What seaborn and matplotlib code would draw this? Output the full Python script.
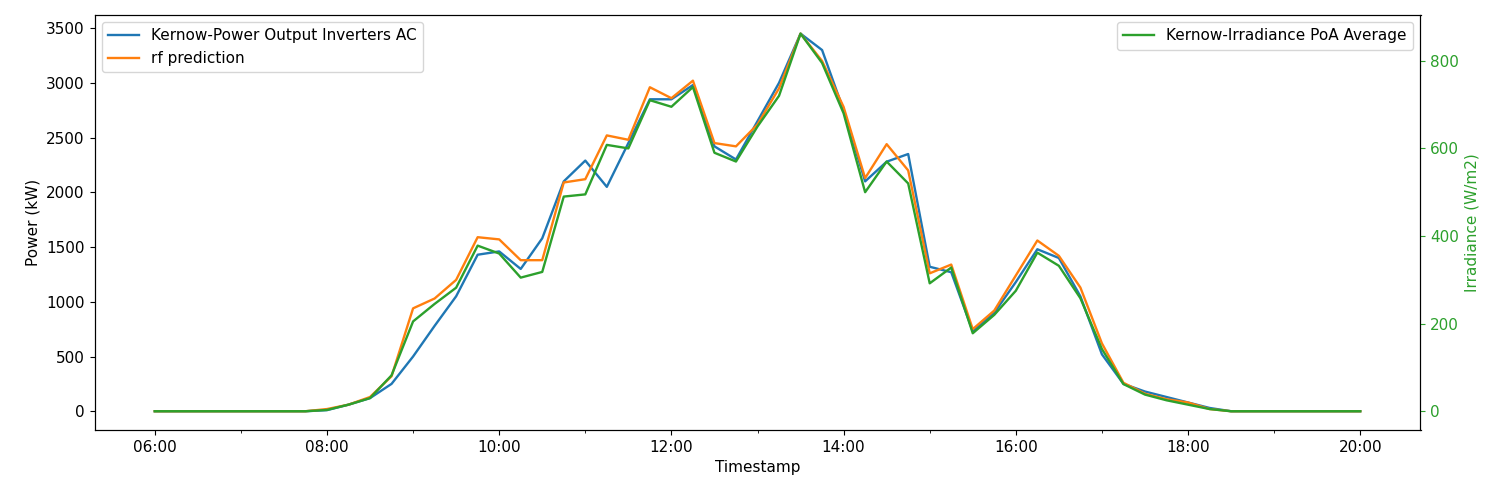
import seaborn as sns
import matplotlib.pyplot as plt
import matplotlib.dates as mdates
import numpy as np
import pandas as pd

# 15 minute readings, 06:00 to 20:00
timestamps = pd.date_range("2020-06-01 06:00", "2020-06-01 20:00", freq="15min")

zeros_morning = [0] * 8  # 06:00 - 07:45
zeros_evening = [0] * 7  # 18:30 - 20:00

power_actual = zeros_morning + [
    10, 60, 120, 250, 500, 780, 1050, 1430, 1460, 1300, 1580, 2100, 2290, 2050,
    2450, 2850, 2850, 2980, 2420, 2300, 2650, 3000, 3450, 3300, 2750, 2100, 2280,
    2350, 1320, 1270, 730, 900, 1180, 1480, 1400, 1050, 520, 250, 180, 130, 80, 30,
] + zeros_evening

rf_prediction = zeros_morning + [
    20, 60, 130, 320, 940, 1030, 1200, 1590, 1570, 1380, 1380, 2090, 2120, 2520,
    2480, 2960, 2860, 3020, 2450, 2420, 2620, 2950, 3450, 3200, 2780, 2130, 2440,
    2200, 1260, 1340, 750, 920, 1240, 1560, 1420, 1130, 620, 260, 160, 110, 80, 20,
] + zeros_evening

irradiance = zeros_morning + [
    3, 15, 30, 82, 205, 245, 282, 378, 360, 305, 318, 490, 495, 608, 600, 710, 695,
    740, 590, 570, 650, 720, 862, 795, 680, 500, 570, 520, 292, 328, 178, 220, 275,
    362, 332, 258, 142, 62, 38, 25, 15, 5,
] + zeros_evening

df = pd.DataFrame({"Timestamp": timestamps, "actual": power_actual,
                   "pred": rf_prediction, "irr": irradiance})

plt.rcParams["font.size"] = 11

fig, ax = plt.subplots(figsize=(15, 4.91), dpi=100)
sns.lineplot(data=df, x="Timestamp", y="actual", ax=ax, color="#1f77b4",
             label="Kernow-Power Output Inverters AC", linewidth=1.7)
sns.lineplot(data=df, x="Timestamp", y="pred", ax=ax, color="#ff7f0e",
             label="rf prediction", linewidth=1.7)
ax.set_ylabel("Power (kW)")
ax.set_xlabel("Timestamp")
ax.legend(loc="upper left")

ax2 = ax.twinx()
sns.lineplot(data=df, x="Timestamp", y="irr", ax=ax2, color="#2ca02c",
             label="Kernow-Irradiance PoA Average", linewidth=1.7)
ax2.set_ylabel("Irradiance (W/m2)", color="#2ca02c")
ax2.tick_params(axis="y", colors="#2ca02c")
ax2.legend(loc="upper right")

ax.xaxis.set_major_locator(mdates.HourLocator(byhour=range(6, 21, 2)))
ax.xaxis.set_minor_locator(mdates.HourLocator())
ax.xaxis.set_major_formatter(mdates.DateFormatter("%H:%M"))

fig.subplots_adjust(left=0.063, right=0.947, top=0.97, bottom=0.124)
plt.savefig("out.png")
